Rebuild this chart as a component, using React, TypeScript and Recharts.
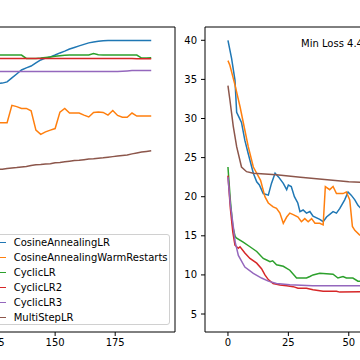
import React from "react";
import { LineChart, Line, XAxis, YAxis, ReferenceArea } from "recharts";

const FONT = '"DejaVu Sans", sans-serif';

const seriesNames = [
  "CosineAnnealingLR",
  "CosineAnnealingWarmRestarts",
  "CyclicLR",
  "CyclicLR2",
  "CyclicLR3",
  "MultiStepLR",
];
const seriesColors = ["#1f77b4", "#ff7f0e", "#2ca02c", "#d62728", "#9467bd", "#8c564b"];

// ---- left panel (metric per epoch, only the right part is visible) ----
const leftEpochs = [126, 128, 130, 132, 134, 136, 138, 140, 142, 144, 146, 148, 150, 152, 154, 156, 158, 160, 162, 164, 166, 168, 170, 172, 174, 176, 178, 180, 182, 184, 186, 188, 190];
const leftCosine = [81.5, 81.6, 82.0, 83.3, 84.6, 85.9, 86.6, 87.2, 88.2, 89.2, 89.8, 90.2, 90.8, 91.5, 92.1, 92.8, 93.3, 93.8, 94.3, 94.8, 95.1, 95.3, 95.5, 95.6, 95.6, 95.6, 95.6, 95.6, 95.6, 95.6, 95.6, 95.6, 95.6];
const leftWarm = [68.6, 68.6, 68.6, 74.3, 73.9, 73.3, 73.3, 72.5, 66.2, 64.8, 65.6, 66.2, 66.7, 72.1, 73.3, 71.8, 71.8, 71.8, 71.1, 70.5, 72.0, 72.1, 72.0, 71.1, 72.6, 71.0, 70.4, 70.4, 71.8, 70.8, 70.8, 70.8, 70.8];
const leftCyclic = [90.8, 90.8, 90.8, 90.8, 90.8, 90.8, 89.7, 89.7, 89.7, 89.8, 90.0, 90.2, 90.4, 90.6, 90.7, 90.8, 90.8, 90.8, 90.8, 90.8, 91.3, 90.9, 90.8, 90.8, 90.8, 90.8, 90.8, 90.8, 90.8, 90.8, 89.8, 89.8, 89.9];
const leftCyclic2 = [89.7, 89.7, 89.7, 89.7, 89.7, 89.7, 89.7, 89.7, 89.7, 89.7, 89.7, 89.7, 89.7, 89.7, 89.7, 89.7, 89.7, 89.7, 89.7, 89.7, 89.7, 89.7, 89.7, 89.7, 89.7, 89.7, 89.7, 89.7, 89.7, 89.6, 89.6, 89.6, 89.6];
const leftCyclic3 = [85.4, 85.4, 85.4, 85.4, 85.4, 85.4, 85.4, 85.4, 85.4, 85.4, 85.4, 85.4, 85.4, 85.4, 85.4, 85.4, 85.4, 85.4, 85.4, 85.4, 85.4, 85.4, 85.4, 85.4, 85.4, 85.4, 85.5, 85.6, 85.7, 85.7, 85.7, 85.7, 85.7];
const leftMultiStep = [53.3, 53.4, 53.6, 53.8, 53.9, 54.1, 54.3, 54.6, 54.8, 54.9, 55.1, 55.2, 55.5, 55.6, 55.8, 56.0, 56.2, 56.3, 56.5, 56.7, 56.8, 57.0, 57.1, 57.3, 57.5, 57.7, 57.9, 58.0, 58.4, 58.7, 59.0, 59.2, 59.4];
const leftSeries = [leftCosine, leftWarm, leftCyclic, leftCyclic2, leftCyclic3, leftMultiStep];
const leftTicks = [125, 150, 175];

// ---- right panel (loss per epoch, only the left part is visible) ----
const cosEpochs = [0, 1.5, 2.9, 3.6, 4.5, 5.6, 7, 8.4, 10.5, 11.9, 13, 14.6, 16.7, 18, 19.5, 21, 22.9, 24.3, 25, 26.2, 27.5, 28.9, 29.8, 31.1, 32.5, 33.9, 35.2, 38, 39.4, 40.8, 43.5, 44.9, 46.3, 48.3, 49.7, 51, 52.5, 53.8, 55, 57];
const cosLoss = [40, 37.7, 34.9, 30.8, 30.2, 29.5, 27.2, 25.5, 23, 21.9, 21.5, 20.4, 20.2, 21.7, 23, 22.5, 21.7, 20.9, 21.5, 21.3, 20, 19.2, 18.1, 18.3, 17.9, 18.1, 17.5, 17.1, 16.8, 17.4, 18.1, 17.9, 18.5, 19.6, 20.6, 20.2, 19.6, 18.9, 18.5, 18.6];
const warmEpochs = [0, 0.8, 2.9, 5, 7, 8.4, 10.5, 11.9, 13.5, 15.3, 16.7, 18.7, 20.1, 21.5, 22.9, 24.3, 25.6, 27, 29, 30.4, 31.8, 33.2, 34.6, 36, 38, 39.4, 40.3, 42.1, 43.5, 44.9, 47.6, 49, 50.4, 51.5, 52.5, 54.5, 57];
const warmLoss = [37.4, 36.8, 34.3, 31.5, 28.5, 26.4, 23.8, 23, 22.1, 20, 19.2, 18.7, 18.5, 17.9, 16.6, 17.4, 17.9, 17.7, 17.4, 16.8, 17.2, 16.8, 17.2, 16.6, 16.6, 16.4, 21.3, 20.9, 21.3, 20.4, 20.4, 20.6, 19.6, 16.2, 15.7, 15.1, 15.0];
const cycEpochs = [0, 1, 2, 3, 3.6, 6.3, 9.1, 11.9, 14.6, 16, 17.4, 18.5, 20.1, 22.9, 25.6, 28.4, 30.4, 32.5, 33.9, 35.2, 38, 43.5, 45.5, 47.6, 49, 51.7, 53.8, 57];
const cycLoss = [23.8, 19.5, 16.2, 14.9, 14.7, 14.2, 13.6, 13, 12.1, 11.9, 11.7, 11.8, 11.3, 11.1, 10.6, 9.6, 9.6, 9.6, 9.8, 10, 10.2, 10.1, 9.6, 9.8, 9.6, 9.6, 9.2, 9.2];
const cyc2Epochs = [0, 1, 2, 2.9, 4.3, 5, 7, 9.1, 11.9, 13.9, 15.3, 16.7, 18.7, 21.5, 24.3, 27, 29, 32.5, 35.2, 39.4, 44.9, 46.3, 57];
const cyc2Loss = [22.7, 18.5, 15.5, 13.8, 13.4, 13.6, 12.8, 12.1, 11.5, 10.8, 10, 9.4, 8.9, 8.7, 8.6, 8.5, 8.3, 8.3, 8.1, 7.9, 7.9, 7.8, 7.85];
const cyc3Epochs = [0, 1, 2.2, 3, 4.3, 7, 10.5, 13.9, 16.7, 20.1, 25.6, 35, 57];
const cyc3Loss = [22.5, 19, 16.2, 14.2, 12.5, 11, 10.2, 9.6, 9.2, 8.9, 8.75, 8.6, 8.6];
const msEpochs = [0, 0.8, 2.2, 3.6, 5.6, 7.7, 10.5, 20, 30, 40, 50, 57];
const msLoss = [34.2, 32.4, 29, 26.4, 23.8, 23.2, 23, 22.8, 22.5, 22.2, 21.9, 21.8];
const rightEpochs = [cosEpochs, warmEpochs, cycEpochs, cyc2Epochs, cyc3Epochs, msEpochs];
const rightLosses = [cosLoss, warmLoss, cycLoss, cyc2Loss, cyc3Loss, msLoss];
const rightXTicks = [0, 25, 50];
const rightYTicks = [5, 10, 15, 20, 25, 30, 35, 40];
const minLossText = "Min Loss 4.43";

const leftData = leftEpochs.map((e, i) => {
  const row: Record<string, number> = { epoch: e };
  seriesNames.forEach((n, k) => (row[n] = leftSeries[k][i]));
  return row;
});
const rightData = rightEpochs.map((eps, k) => eps.map((e, i) => ({ epoch: e, loss: rightLosses[k][i] })));

const X_DOMAIN: [number, number] = [-9.5, 199.9];
const LEFT_Y: [number, number] = [0, 100];
const RIGHT_Y: [number, number] = [2.7, 41.7];
const tickStyle = { fill: "#000", fontSize: 10, fontFamily: FONT };

export default function App() {
  return (
    <div style={{ position: "fixed", left: 0, top: 0, width: 360, height: 360, overflow: "hidden", background: "#fff", fontFamily: FONT }}>
      <div style={{ position: "absolute", left: -341, top: 0 }}>
        <LineChart width={529} height={360} data={leftData} margin={{ top: 27, right: 13, left: 13, bottom: 0 }}>
          <XAxis dataKey="epoch" type="number" domain={X_DOMAIN} allowDataOverflow ticks={leftTicks} height={28}
            axisLine={false} tickLine={{ stroke: "#000" }} tickSize={4} tickMargin={3} tick={tickStyle} />
          <YAxis hide type="number" domain={LEFT_Y} allowDataOverflow />
          {seriesNames.map((n, k) => (
            <Line key={n} dataKey={n} stroke={seriesColors[k]} strokeWidth={1.5} dot={false} type="linear" isAnimationActive={false} />
          ))}
          <ReferenceArea x1={X_DOMAIN[0]} x2={X_DOMAIN[1]} y1={LEFT_Y[0]} y2={LEFT_Y[1]} fill="none" fillOpacity={0} stroke="#000" strokeWidth={1} strokeOpacity={1} />
        </LineChart>
      </div>
      <div style={{ position: "absolute", left: -60, top: 234, width: 230, height: 91, boxSizing: "border-box", border: "1px solid #d0d0d0", borderRadius: 3, background: "rgba(255,255,255,0.8)", fontSize: 10, color: "#000" }}>
        {seriesNames.map((n, k) => (
          <div key={n} style={{ height: 15, lineHeight: "15px", position: "relative", whiteSpace: "nowrap" }}>
            <span style={{ position: "absolute", left: 45, top: 7, width: 20, height: 0, borderTop: `1.5px solid ${seriesColors[k]}` }} />
            <span style={{ position: "absolute", left: 72.7 }}>{n}</span>
          </div>
        ))}
      </div>
      <div style={{ position: "absolute", left: 165, top: 0 }}>
        <LineChart width={560} height={360} margin={{ top: 27, right: 14, left: 0, bottom: 0 }}>
          <XAxis dataKey="epoch" type="number" domain={X_DOMAIN} allowDataOverflow ticks={rightXTicks} height={28}
            axisLine={false} tickLine={{ stroke: "#000" }} tickSize={4} tickMargin={3} tick={tickStyle} />
          <YAxis type="number" domain={RIGHT_Y} allowDataOverflow ticks={rightYTicks} width={40}
            axisLine={false} tickLine={{ stroke: "#000" }} tickSize={4} tickMargin={4} tick={tickStyle} />
          {seriesNames.map((n, k) => (
            <Line key={n} data={rightData[k]} dataKey="loss" name={n} stroke={seriesColors[k]} strokeWidth={1.5} dot={false} type="linear" isAnimationActive={false} />
          ))}
          <ReferenceArea x1={X_DOMAIN[0]} x2={X_DOMAIN[1]} y1={RIGHT_Y[0]} y2={RIGHT_Y[1]} fill="none" fillOpacity={0} stroke="#000" strokeWidth={1} strokeOpacity={1} />
        </LineChart>
      </div>
      <div style={{ position: "absolute", left: 301, top: 38, fontSize: 10, lineHeight: "12px", color: "#000", whiteSpace: "nowrap" }}>{minLossText}</div>
    </div>
  );
}
